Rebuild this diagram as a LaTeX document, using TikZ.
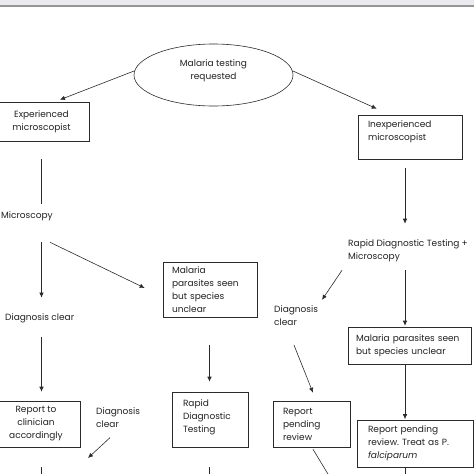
\documentclass[tikz,border=0pt]{standalone}
\usepackage{fontspec}
\setmainfont{Poppins}
\usetikzlibrary{arrows.meta}
\usetikzlibrary{calc}
\usetikzlibrary{shapes.geometric}
\definecolor{ln}{HTML}{2B2B2B}
\definecolor{txt}{HTML}{222222}
\definecolor{bandlight}{HTML}{E9E9EE}
\definecolor{bandline}{HTML}{959595}
\frenchspacing

\begin{document}
\begin{tikzpicture}
	[x=1pt,y=-1pt,
	 every node/.style={font=\fontsize{9}{13}\selectfont, text=txt},
	 flowbox/.style={draw=ln, line width=0.6pt, rectangle, inner ysep=0pt},
	 leftbox/.style={flowbox, align=left},
	 note/.style={inner sep=0pt, align=left, anchor=west},
	 flow/.style={draw=ln, line width=0.6pt},
	 tip/.style={flow, -{Latex[length=5pt,width=4.5pt]}}]

	\useasboundingbox (0,0) rectangle (474,474);
	\clip (0,0) rectangle (474,474);

	%Band
	\fill[bandlight] (0,0) rectangle (474,5);
	\fill[bandline] (0,5) rectangle (474,7);

	%Boxes
	\node[draw=ln, line width=0.6pt, ellipse, minimum width=159pt, minimum height=62pt, inner sep=0pt, align=center] (req) at (213.5,75) {Malaria testing\\requested\\[-3pt]\mbox{}};
	\node[flowbox, align=center, minimum width=96pt, minimum height=39pt] (exp) at (41.5,121.5) {Experienced\\microscopist};
	\node[leftbox, text width=84pt, inner xsep=10pt, minimum height=44pt] (inexp) at (410,137) {Inexperienced\\microscopist\\\mbox{}};
	\node[leftbox, text width=76pt, inner xsep=9pt, minimum height=55pt] (unclM) at (210,289.5) {Malaria\\parasites seen\\but species\\unclear};
	\node[leftbox, text width=107pt, inner xsep=8pt, minimum height=37pt] (unclR) at (409.5,345.5) {Malaria parasites seen\\but species unclear};
	\node[leftbox, text width=54pt, inner xsep=11pt, minimum height=55pt] (rdt) at (210,419.5) {Rapid\\Diagnostic\\Testing\\[-6.5pt]\mbox{}};
	\node[flowbox, align=center, minimum width=88pt, minimum height=46pt] (rep) at (36,424) {Report to\\clinician\\accordingly};
	\node[leftbox, text width=57pt, inner xsep=10pt, minimum height=46pt] (pend) at (311.5,424) {Report\\pending\\review};
	\node[leftbox, text width=94.5pt, inner xsep=11pt, minimum height=47pt] (treat) at (415.25,443.5) {Report pending\\review. Treat as P.\\\textit{falciparum}};

	%Labels
	\node[note] (micL) at (1,216) {Microscopy};
	\node[note] (rdtm) at (348,250.5) {Rapid Diagnostic Testing +\\Microscopy};
	\node[note] (clearL) at (5,318) {Diagnosis clear};
	\node[note] (clearR) at (274,315.5) {Diagnosis\\clear};
	\node[note] (clearB) at (96,417.5) {Diagnosis\\clear};

	\coordinate (col) at (405,0);
	\coordinate (clrB) at (88,458);
	\coordinate (bot1) at (41.5,480);
	\coordinate (bot2) at (209.5,480);
	\coordinate (bot3) at (331.6,480);
	\coordinate (bot4) at (405,480);

	%Top
	\draw[tip] (req.177) -- ($(exp.north)+(18.5,-2)$);
	\draw[tip] (req.3) -- ($(inexp.north west)+(19,-6)$);

	%Left
	\draw[flow, shorten <=18pt, shorten >=7.5pt] (exp.south) -- (exp.south |- micL.north);
	\draw[tip, shorten <=21.5pt, shorten >=15.5pt] (exp.south |- micL.south) -- (exp.south |- clearL.north);
	\draw[tip] ($(micL.south east)+(-3,21.5)$) -- ($(unclM.west)+(-18,-1.5)$);
	\draw[tip, shorten <=14.5pt, shorten >=9pt] (exp.south |- clearL.south) -- (exp.south |- rep.north);
	\draw[flow, shorten <=20pt] (exp.south |- rep.south) -- (bot1);
	\draw[tip] ($(clearB.south west)+(14,10)$) -- (clrB);

	%Middle
	\draw[tip, shorten <=28pt, shorten >=10pt] ($(unclM.south)+(-0.5,0)$) -- ($(rdt.north)+(-0.5,0)$);
	\draw[flow, shorten <=20pt] ($(rdt.south)+(-0.5,0)$) -- (bot2);

	%Right
	\draw[tip, shorten <=9pt, shorten >=15.5pt] (col |- inexp.south) -- (col |- rdtm.north);
	\draw[tip, shorten <=8.5pt, shorten >=1pt] (col |- rdtm.south) -- (col |- unclR.north);
	\draw[tip] ($(rdtm.south west)+(-6,8.5)$) -- ($(clearR.north west)+(48,-5.5)$);
	\draw[tip] ($(clearR.south west)+(20,19.5)$) -- ($(pend.north)+(1.5,-8)$);
	\draw[flow] ($(pend.south)+(1.5,2)$) -- (bot3);
	\draw[tip, shorten >=0.5pt] (col |- unclR.south) -- (col |- treat.north);
	\draw[flow] (col |- treat.south) -- (bot4);
\end{tikzpicture}
\end{document}
